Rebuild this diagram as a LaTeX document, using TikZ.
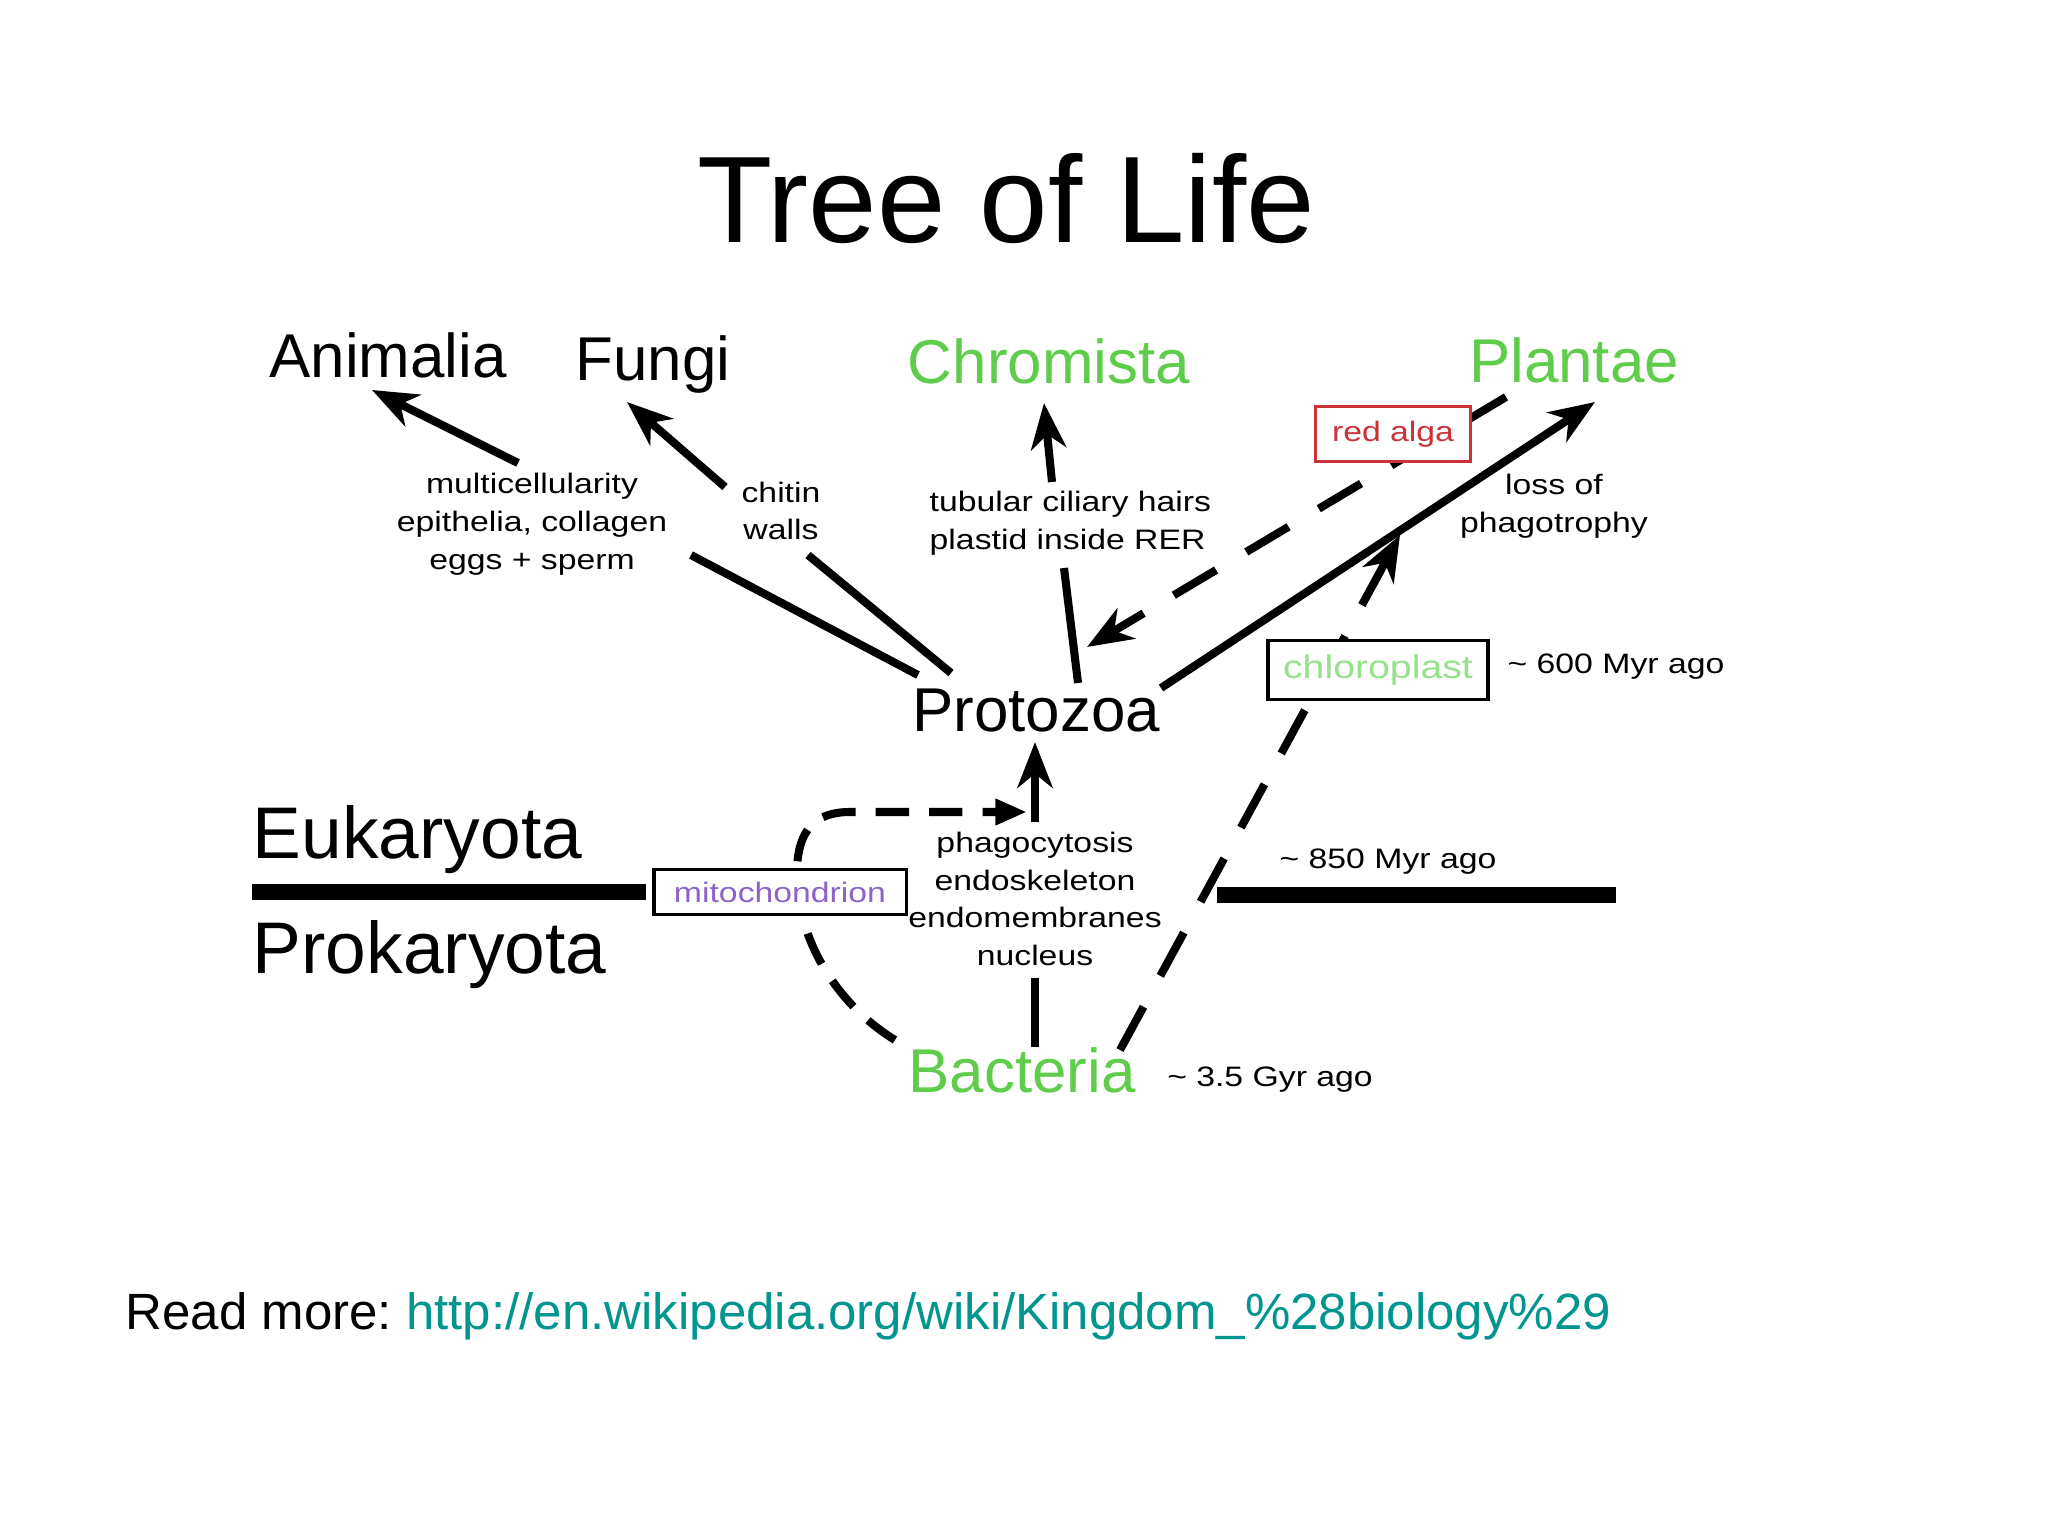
\documentclass[tikz,border=0pt]{standalone}
\usepackage{fontspec}
\setmainfont{Liberation Sans}
\newfontfamily\smallf[FakeStretch=1.2]{Liberation Sans}
\usetikzlibrary{arrows.meta}
\definecolor{lgreen}{RGB}{95,205,75}
\definecolor{pale}{RGB}{150,225,140}
\definecolor{mitoc}{RGB}{140,100,200}
\definecolor{alga}{RGB}{205,50,55}
\definecolor{linkc}{RGB}{0,150,143}
\frenchspacing
\begin{document}
\begin{tikzpicture}[x=0.01cm,y=-0.01cm,
  big/.style={font=\fontsize{17.6}{20}\selectfont, inner sep=0pt, anchor=base},
  huge/.style={font=\fontsize{20.8}{24}\selectfont, inner sep=0pt, anchor=base west},
  lbl/.style={font=\smallf\fontsize{8}{10.75}\selectfont, inner sep=0pt, align=center},
  arr/.style={line width=2.3pt, -{Stealth[length=13pt,width=10pt,inset=4pt]}},
  plain/.style={line width=2.3pt},
  dashline/.style={line width=2.3pt, dash pattern=on 14pt off 10pt},
  mitodash/.style={line width=2.3pt, dash pattern=on 9.5pt off 5.7pt},
  bar/.style={line width=4.6pt},
  tagbox/.style={draw, fill=white, inner sep=0pt, font=\smallf\fontsize{8}{10}\selectfont}]
\useasboundingbox (0,0) rectangle (2048,1536);
\fill[white] (0,0) rectangle (2048,1536);

% title and footer
\node[font=\fontsize{35}{40}\selectfont, anchor=base, inner sep=0pt] (title) at (1006,242) {Tree of Life};
\node[font=\fontsize{14.5}{17}\selectfont, anchor=base west, inner sep=0pt] (more) at (125,1329)
  {Read more: \textcolor{linkc}{http://en.wikipedia.org/wiki/Kingdom\_\%28biology\%29}};

% main nodes
\node[big] (animalia) at (388,377) {Animalia};
\node[big] (fungi) at (653,380) {Fungi};
\node[big, text=lgreen] (chromista) at (1049,383) {Chromista};
\node[big, text=lgreen] (plantae) at (1574,382) {Plantae};
\node[big] (protozoa) at (1036,731) {Protozoa};
\node[big, text=lgreen] (bacteria) at (1022,1092) {Bacteria};
\node[huge] (euk) at (252,858) {Eukaryota};
\node[huge] (prok) at (252,973) {Prokaryota};

% labels
\node[lbl] (multi) at (532,524) {multicellularity\\epithelia, collagen\\eggs + sperm};
\node[lbl] (chitin) at (781,511) {chitin\\walls};
\node[lbl, align=left, anchor=west] (tubular) at (929,523) {tubular ciliary hairs\\plastid inside RER};
\node[lbl] (loss) at (1554,506) {loss of\\phagotrophy};
\node[lbl] (phago) at (1035,899) {phagocytosis\\endoskeleton\\endomembranes\\nucleus};
\node[lbl] (t600) at (1616,667) {\textasciitilde{} 600 Myr ago};
\node[lbl] (t850) at (1388,862) {\textasciitilde{} 850 Myr ago};
\node[lbl] (t35) at (1270,1080) {\textasciitilde{} 3.5 Gyr ago};

% connector end points
\coordinate (pzA) at (918,675);  \coordinate (mlA) at (691,555);
\coordinate (mlB) at (518,463);  \coordinate (anT) at (372,390);
\coordinate (pzF) at (951,673);  \coordinate (chA) at (808,555);
\coordinate (chB) at (725,487);  \coordinate (fuT) at (627,402);
\coordinate (pzC) at (1078,683); \coordinate (tuA) at (1064,568);
\coordinate (tuB) at (1052,482); \coordinate (crT) at (1044,403);
\coordinate (pzP) at (1161,688); \coordinate (plT) at (1595,402);
\coordinate (raS) at (1506,397); \coordinate (raT) at (1087,647);
\coordinate (cpS) at (1120,1050); \coordinate (cpT) at (1400,535);
\coordinate (baV) at (1035,1047); \coordinate (phA) at (1035,978);
\coordinate (phB) at (1035,822); \coordinate (pzB) at (1035,742);
\coordinate (baM) at (895,1040); \coordinate (miT) at (1027,812);

% connectors
\draw[plain] (pzA) -- (mlA);
\draw[arr] (mlB) -- (anT);
\draw[plain] (pzF) -- (chA);
\draw[arr] (chB) -- (fuT);
\draw[plain] (pzC) -- (tuA);
\draw[arr] (tuB) -- (crT);
\draw[arr] (pzP) -- (plT);
\draw[dashline, -{Stealth[length=13pt,width=10pt,inset=4pt]}] (raS) -- (raT);
\draw[dashline, -{Stealth[length=13pt,width=10pt,inset=4pt]}] (cpS) -- (cpT);
\draw[plain] (baV) -- (phA);
\draw[arr] (phB) -- (pzB);
\draw[mitodash, -{Triangle[length=9pt,width=7pt]}] (baM) .. controls (830,1000) and (795,930) .. (797,870)
   .. controls (798,830) and (815,812) .. (850,812) -- (miT);

% era bars
\draw[bar] (252,892) -- (646,892);
\draw[bar] (1217,895) -- (1616,895);

% boxes
\node[tagbox, draw=alga, line width=0.9pt, text=alga, minimum width=1.55cm, minimum height=0.55cm] (redalga) at (1393,434) {red alga};
\node[tagbox, line width=1.1pt, text=pale, minimum width=2.2cm, minimum height=0.59cm, font=\smallf\fontsize{9.3}{11}\selectfont] (chloro) at (1378,670) {chloroplast};
\node[tagbox, line width=0.9pt, text=mitoc, minimum width=2.52cm, minimum height=0.45cm] (mito) at (780,892) {mitochondrion};
\end{tikzpicture}
\end{document}
